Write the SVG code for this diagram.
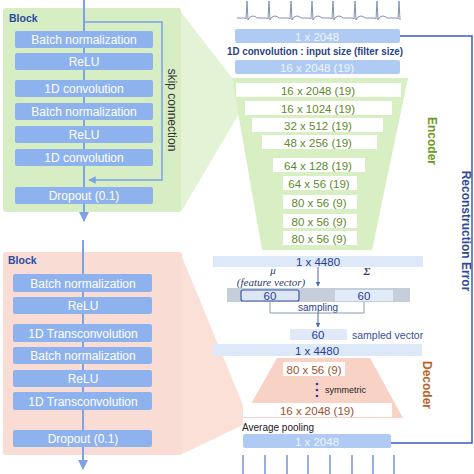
<svg xmlns="http://www.w3.org/2000/svg" width="474" height="474" viewBox="0 0 474 474">
<defs>
<style>
.bx{fill:#8eb2ee}
.bt{font-family:"Liberation Sans",Arial,sans-serif;font-size:12px;fill:#ffffff;text-anchor:middle}
.blk{font-family:"Liberation Sans",Arial,sans-serif;font-size:10.5px;font-weight:bold;fill:#2a4aa0}
.main{stroke:#7ba3e6;stroke-width:2;fill:none}
.wb{fill:#ffffff}
.gt{font-family:"Liberation Sans",Arial,sans-serif;font-size:11.5px;fill:#5e8a2c;text-anchor:middle}
.rt{font-family:"Liberation Sans",Arial,sans-serif;font-size:11.5px;fill:#a0522d;text-anchor:middle}
.dk{font-family:"Liberation Sans",Arial,sans-serif;font-size:11.5px;fill:#2a3f8f;text-anchor:middle}
.lb{fill:#b0cbf3}
.lbt{font-family:"Liberation Sans",Arial,sans-serif;font-size:11.5px;fill:#eef4fd;text-anchor:middle}
.gl{stroke:#8a9ab0;stroke-width:1;fill:none}
.ser{font-family:"Liberation Serif","Times New Roman",serif;font-style:italic;font-size:11px;fill:#2a3a6a;text-anchor:middle}
</style>
<marker id="ah" viewBox="0 0 10 10" refX="9" refY="5" markerWidth="5" markerHeight="5" orient="auto-start-reverse">
<path d="M0,0 L10,5 L0,10 z" fill="#7ba3e6"/>
</marker>
<marker id="ahg" viewBox="0 0 10 10" refX="9" refY="5" markerWidth="5" markerHeight="5" orient="auto">
<path d="M0,0 L10,5 L0,10 z" fill="#4a68b8"/>
</marker>
</defs>
<rect width="474" height="474" fill="#ffffff"/>

<!-- Encoder block panel -->
<g id="encoder-block">
<polygon points="178,8 232,78 240,112 181,212" fill="#e4f3d6"/>
<rect x="3" y="8" width="178" height="204" rx="3" fill="#d7edc3"/>
<text class="blk" x="9" y="22">Block</text>
<path class="main" d="M84,0 V221" marker-end="url(#ah)"/>
<path d="M84,22 H162 V180 H89" stroke="#7ba3e6" stroke-width="1.5" fill="none" marker-end="url(#ah)"/>
<text x="168" y="110" transform="rotate(90 168 110)" font-family="Liberation Sans, Arial, sans-serif" font-size="12" fill="#333333" text-anchor="middle">skip connection</text>
<g id="e1"><rect class="bx" x="15" y="31" width="138" height="17" rx="2"/><text class="bt" x="84" y="44">Batch normalization</text></g>
<g id="e2"><rect class="bx" x="15" y="53" width="138" height="17" rx="2"/><text class="bt" x="84" y="66">ReLU</text></g>
<g id="e3"><rect class="bx" x="15" y="80" width="138" height="17" rx="2"/><text class="bt" x="84" y="93">1D convolution</text></g>
<g id="e4"><rect class="bx" x="15" y="103" width="138" height="17" rx="2"/><text class="bt" x="84" y="116">Batch normalization</text></g>
<g id="e5"><rect class="bx" x="15" y="126" width="138" height="17" rx="2"/><text class="bt" x="84" y="139">ReLU</text></g>
<g id="e6"><rect class="bx" x="15" y="149" width="138" height="17" rx="2"/><text class="bt" x="84" y="162">1D convolution</text></g>
<g id="e7"><rect class="bx" x="15" y="187" width="138" height="17" rx="2"/><text class="bt" x="84" y="200">Dropout (0.1)</text></g>
</g>

<!-- Decoder block panel -->
<g id="decoder-block">
<polygon points="180,252 243,405 243,425 180,455" fill="#fbe0d7"/>
<rect x="3" y="252" width="179" height="203" rx="3" fill="#f9dcd3"/>
<text class="blk" x="8" y="264">Block</text>
<path class="main" d="M83,240 V469" marker-end="url(#ah)"/>
<g id="d1"><rect class="bx" x="13" y="274" width="139" height="18" rx="2"/><text class="bt" x="83" y="287.5">Batch normalization</text></g>
<g id="d2"><rect class="bx" x="13" y="297" width="139" height="17" rx="2"/><text class="bt" x="83" y="310">ReLU</text></g>
<g id="d3"><rect class="bx" x="13" y="324" width="139" height="18" rx="2"/><text class="bt" x="83" y="337.5">1D Transconvolution</text></g>
<g id="d4"><rect class="bx" x="13" y="347" width="139" height="17" rx="2"/><text class="bt" x="83" y="360">Batch normalization</text></g>
<g id="d5"><rect class="bx" x="13" y="370" width="139" height="17" rx="2"/><text class="bt" x="83" y="383">ReLU</text></g>
<g id="d6"><rect class="bx" x="13" y="392" width="139" height="18" rx="2"/><text class="bt" x="83" y="405.5">1D Transconvolution</text></g>
<g id="d7"><rect class="bx" x="13" y="430" width="139" height="17" rx="2"/><text class="bt" x="83" y="443">Dropout (0.1)</text></g>
</g>

<!-- Input ECG -->
<g id="ecg-in">
<path d="M237,18 L245,18 L246,19 L247,1 L248,20 L249,18 Q253,14 257,18 L267,18 L268,19 L269,1 L270,20 L271,18 Q275,14 279,18 L289,18 L290,19 L291,1 L292,20 L293,18 Q297,14 301,18 L310,18 L311,19 L312,1 L313,20 L314,18 Q318,14 322,18 L331,18 L332,19 L333,1 L334,20 L335,18 Q339,14 343,18 L353,18 L354,19 L355,1 L356,20 L357,18 Q361,14 365,18 L375,18 L376,19 L377,1 L378,20 L379,18 Q383,14 387,18 L397,18 L398,19 L399,1 L400,20" stroke="#7d95b5" stroke-width="1" fill="none"/>
</g>

<!-- Encoder -->
<g id="encoder">
<polygon points="232,78 408,78 372,250 262,250" fill="#d8efc4"/>
<g id="in1"><rect class="lb" x="235" y="29" width="165" height="14" rx="2"/><text class="lbt" x="317" y="40.5">1 x 2048</text></g>
<text x="315" y="55" font-family="Liberation Sans, Arial, sans-serif" font-size="10" font-weight="bold" fill="#2a3f8f" text-anchor="middle" textLength="176" lengthAdjust="spacingAndGlyphs">1D convolution : input size (filter size)</text>
<g id="c0"><rect class="lb" x="235" y="60" width="165" height="14" rx="2"/><text class="lbt" x="317" y="71.5">16 x 2048 (19)</text></g>
<g id="c1"><rect class="wb" x="236" y="83" width="165" height="14"/><text class="gt" x="318" y="94.5">16 x 2048 (19)</text></g>
<g id="c2"><rect class="wb" x="245" y="101" width="147" height="14"/><text class="gt" x="318" y="112.5">16 x 1024 (19)</text></g>
<g id="c3"><rect class="wb" x="252" y="118" width="131" height="14"/><text class="gt" x="318" y="129.5">32 x 512 (19)</text></g>
<g id="c4"><rect class="wb" x="262" y="135" width="115" height="14"/><text class="gt" x="318" y="146.5">48 x 256 (19)</text></g>
<g id="c5"><rect class="wb" x="273" y="158" width="92" height="14"/><text class="gt" x="318" y="169.5">64 x 128 (19)</text></g>
<g id="c6"><rect class="wb" x="283" y="176" width="74" height="14"/><text class="gt" x="319" y="187.5">64 x 56 (19)</text></g>
<g id="c7"><rect class="wb" x="283" y="195" width="74" height="14"/><text class="gt" x="319" y="206.5">80 x 56 (9)</text></g>
<g id="c8"><rect class="wb" x="283" y="214" width="74" height="14"/><text class="gt" x="319" y="225.5">80 x 56 (9)</text></g>
<g id="c9"><rect class="wb" x="283" y="231" width="74" height="14"/><text class="gt" x="319" y="242.5">80 x 56 (9)</text></g>
<text x="428" y="141" transform="rotate(90 428 141)" font-family="Liberation Sans, Arial, sans-serif" font-size="12" font-weight="bold" fill="#6a9a1e" text-anchor="middle">Encoder</text>
</g>

<!-- Latent -->
<g id="latent">
<rect x="213" y="256" width="210" height="11" fill="#dde8f8"/>
<text class="dk" x="318" y="266">1 x 4480</text>
<text class="ser" x="273" y="274">μ</text>
<text class="ser" x="367" y="275" font-style="normal" font-weight="bold">Σ</text>
<text class="ser" x="271" y="286">(feature vector)</text>
<rect x="227" y="288" width="183" height="14" fill="#c5ced9"/>
<rect x="241" y="290" width="58" height="11" rx="2" fill="#dde6f3" stroke="#3a5aa8" stroke-width="1.2"/>
<text class="dk" x="270" y="300" fill="#2a3a6a">60</text>
<rect x="335" y="290" width="58" height="11" fill="#e2ebf8"/>
<text class="dk" x="364" y="300" fill="#2a3a6a">60</text>
<text x="318" y="311" font-family="Liberation Sans, Arial, sans-serif" font-size="10" fill="#2a3f8f" text-anchor="middle">sampling</text>
<g id="sampled"><rect x="290" y="329" width="57" height="11" fill="#dfe9f8"/><text class="dk" x="318" y="339" fill="#2a3a6a">60</text></g>
<text x="352" y="338.5" font-family="Liberation Sans, Arial, sans-serif" font-size="10.5" fill="#3a4f9a">sampled vector</text>
<rect x="213" y="344" width="209" height="12" fill="#dde8f8"/>
<text class="dk" x="317" y="354.5">1 x 4480</text>
</g>

<!-- Decoder -->
<g id="decoder">
<polygon points="277,358 370,358 403,418 243,418" fill="#f8d3c5"/>
<g id="r1"><rect class="wb" x="283" y="362" width="62" height="14"/><text class="rt" x="314" y="373.5">80 x 56 (9)</text></g>
<g fill="#2a3f9f"><circle cx="317" cy="384" r="1.3"/><circle cx="317" cy="390" r="1.3"/><circle cx="317" cy="396" r="1.3"/></g>
<text x="325" y="393" font-family="Liberation Sans, Arial, sans-serif" font-size="9" fill="#222222">symmetric</text>
<g id="r2"><rect class="wb" x="243" y="403" width="149" height="14"/><text class="rt" x="317" y="414.5">16 x 2048 (19)</text></g>
<text x="423" y="385" transform="rotate(90 423 385)" font-family="Liberation Sans, Arial, sans-serif" font-size="12" font-weight="bold" fill="#b8622a" text-anchor="middle">Decoder</text>
<text x="242" y="431" font-family="Liberation Sans, Arial, sans-serif" font-size="10" fill="#222222">Average pooling</text>
<g id="out1"><rect class="lb" x="243" y="434" width="148" height="14" rx="2"/><text class="lbt" x="317" y="445.5">1 x 2048</text></g>
</g>

<!-- Output ECG -->
<g id="ecg-out" stroke="#5577cc" stroke-width="1.2">
<line x1="243" y1="455" x2="243" y2="474"/>
<line x1="265" y1="455" x2="265" y2="474"/>
<line x1="287" y1="455" x2="287" y2="474"/>
<line x1="308" y1="455" x2="308" y2="474"/>
<line x1="330" y1="455" x2="330" y2="474"/>
<line x1="352" y1="455" x2="352" y2="474"/>
<line x1="373" y1="455" x2="373" y2="474"/>
<line x1="394" y1="455" x2="394" y2="474"/>
</g>

<!-- Connectors -->
<g id="connectors">
<path d="M318,267 V286" stroke="#4a68b8" stroke-width="1" fill="none" marker-end="url(#ahg)"/>
<path d="M270,301 V313 H364 V302" class="gl"/>
<path d="M318,313 V327" stroke="#4a68b8" stroke-width="1" fill="none" marker-end="url(#ahg)"/>
<path d="M400,36 H472 V443 H391" stroke="#3a5cc0" stroke-width="1.5" fill="none"/>
<text x="462" y="231" transform="rotate(90 462 231)" font-family="Liberation Sans, Arial, sans-serif" font-size="12" font-weight="bold" fill="#2f4a9a" text-anchor="middle">Reconstruction Error</text>
</g>
</svg>
